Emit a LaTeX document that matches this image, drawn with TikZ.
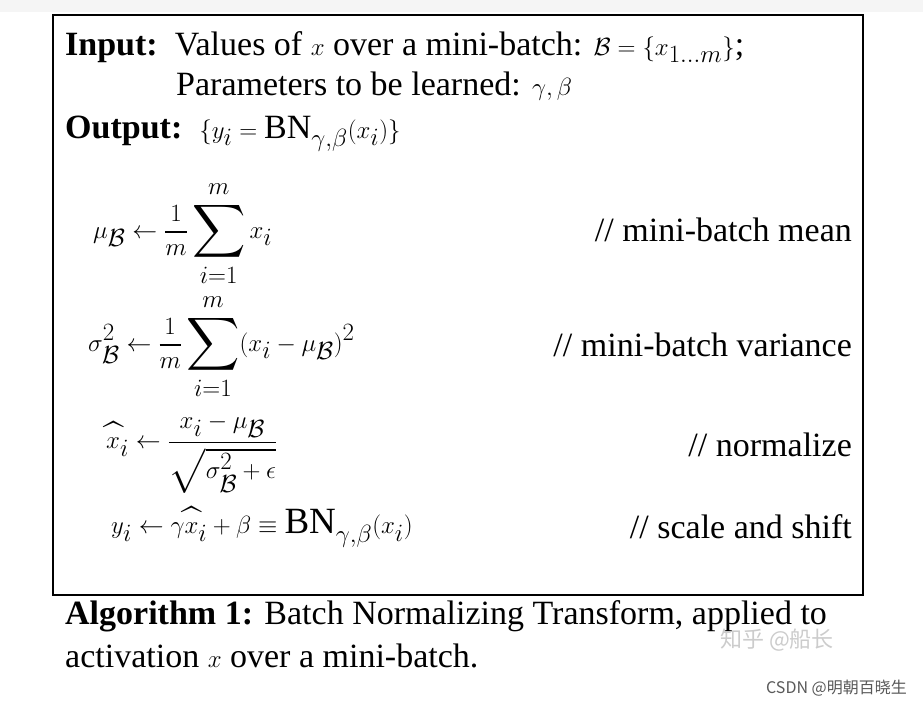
\documentclass[tikz,border=0pt]{standalone}
\usepackage{amsmath,amssymb}
\usepackage{fontspec}
\setmainfont{Liberation Serif}
\newfontfamily\cjkfont{Noto Sans CJK SC}
\usetikzlibrary{positioning}
\tikzset{
  txt/.style={anchor=base west, inner sep=0pt, font=\fontsize{34}{40}\selectfont},
  eqn/.style={anchor=west, inner sep=0pt, font=\fontsize{37}{44}\selectfont},
  note/.style={anchor=east, inner sep=0pt, font=\fontsize{34}{40}\selectfont},
}
\begin{document}
\begin{tikzpicture}[x=1pt,y=-1pt]
    % Canvas
    \useasboundingbox[fill=white] (0,0) rectangle (923,705);
    \fill[gray!8] (0,0) rectangle (923,12);
    % Frame
    \draw[line width=2pt] (53,15) rectangle (863,595);

    % Header
    \node[txt] (input) at (65,55) {\textbf{Input:}\ \ Values of $x$ over a mini-batch: $\mathcal{B}=\{x_{1\ldots m}\}$;};
    \node[txt] (param) at (176,95) {Parameters to be learned: $\gamma,\beta$};
    \node[txt] (output) at (65,138) {\textbf{Output:}\ \ $\{y_i=\mathrm{BN}_{\gamma,\beta}(x_i)\}$};

    % Steps
    \node[eqn] (mean) at (93,234) {$\displaystyle\mu_{\mathcal{B}}\leftarrow\frac{1}{m}\sum_{i=1}^{m}x_i$};
    \node[note] (meannote) at (852,230) {// mini-batch mean};
    \node[eqn] (var) at (88,347) {$\displaystyle\sigma_{\mathcal{B}}^2\leftarrow\frac{1}{m}\sum_{i=1}^{m}(x_i-\mu_{\mathcal{B}})^2$};
    \node[note] (varnote) at (852,345) {// mini-batch variance};
    \node[eqn] (norm) at (106,454) {$\displaystyle\widehat{x}_i\leftarrow\frac{x_i-\mu_{\mathcal{B}}}{\sqrt{\sigma_{\mathcal{B}}^2+\epsilon}}$};
    \node[note] (normnote) at (852,445) {// normalize};
    \node[eqn] (scale) at (111,527) {$y_i\leftarrow\gamma\widehat{x}_i+\beta\equiv\mathrm{BN}_{\gamma,\beta}(x_i)$};
    \node[note] (scalenote) at (852,527) {// scale and shift};

    % Caption
    \node[txt] (cap1) at (65,624) {\textbf{Algorithm 1:} Batch Normalizing Transform, applied to};
    \node[txt] (cap2) at (65,667) {activation $x$ over a mini-batch.};

    % Watermarks
    \node[anchor=west, inner sep=0pt, text=gray!40, font=\cjkfont\fontsize{22}{26}\selectfont] (zhihu) at (720,640) {知乎 @船长};
    \node[anchor=east, inner sep=0pt, text=gray!70!black, font=\cjkfont\fontsize{16}{20}\selectfont] (csdn) at (907,688) {CSDN @明朝百晓生};
\end{tikzpicture}
\end{document}
